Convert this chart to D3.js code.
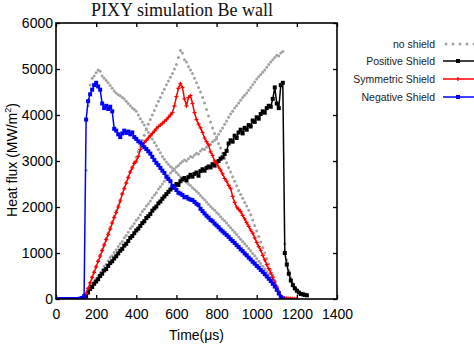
<!DOCTYPE html>
<html><head><meta charset="utf-8">
<script src="https://cdn.jsdelivr.net/npm/d3@7/dist/d3.min.js"></script>
<style>body{margin:0;background:#fff}</style>
</head><body><svg id="c" width="474" height="344"></svg>
<script>
const timeUs = [0,10,20,30,40,50,60,70,80,90,100,110,120,130,
140,150,160,170,180,190,200,210,220,230,240,250,260,270,280,290,300,310,320,330,
340,350,360,370,380,390,400,410,420,430,440,450,460,470,480,490,500,510,520,530,
540,550,560,570,580,590,600,610,620,630,640,650,660,670,680,690,700,710,720,730,
740,750,760,770,780,790,800,810,820,830,840,850,860,870,880,890,900,910,920,930,
940,950,960,970,980,990,1000,1010,1020,1030,1040,1050,1060,1070,1080,1090,1100,1110,1120,1130,
1140,1150,1160,1170,1180,1190,1200,1210,1220,1230,1240,1250];

const xTicks = [0,200,400,600,800,1000,1200,1400];
const yTicks = [0,1000,2000,3000,4000,5000,6000];

const noShieldPeak1 = [0,0,0,0,0,0,0,0,0,0,0,0,0,0,
100,2800,4200,4650,4800,4850,4920,4980,4950,4850,
4800,4750,4700,4640,4580,4520,4480,4440,4420,4380,
4350,4300,4250,4200,4150,4120,4080,4000,3920,3850,
3780,3700,3620,3550,3480,3400,3330,3250,3180,3100,
3040,2980,2930,2880,2850,2800,2750,2700,2650,2620,
2580,2540,2500,2470,2420,2380,2340,2300,2250,2200,
2160,2110,2060,2010,1970,1930,1880,1840,1790,1740,
1700,1650,1600,1550,1500,1450,1400,1350,1300,1250,
1200,1150,1100,1050,990,940,880,820,770,710,
650,590,530,470,400,330,250,170,80,20,
null,null,null,null,null,null,null,null,null,null,null,null];

const noShieldPeak2 = [null,null,null,null,null,null,null,null,null,null,null,null,null,null,
0,100,230,350,480,600,720,840,960,1080,
1200,1320,1440,1560,1680,1800,1920,2040,2160,2300,
2420,2540,2660,2780,2880,2980,3080,3200,3320,3450,
3560,3680,3800,3900,4000,4100,4200,4300,4380,4480,
4560,4660,4740,4820,4900,5000,5100,5250,5400,5350,
5200,5150,5050,4980,4900,4800,4700,4600,4500,4380,
4260,4120,3980,3850,3720,3600,3480,3380,3280,3170,
3060,2960,2860,2760,2660,2560,2460,2360,2270,2190,
2100,2020,1930,1830,1720,1600,1480,1360,1240,1120,
1000,880,760,640,520,400,280,160,60,20,
null,null,null,null,null,null,null,null,null,null,null,null];

const noShieldPeak3 = [null,null,null,null,null,null,null,null,null,null,null,null,null,null,
0,70,160,250,300,380,440,500,570,630,
710,750,830,900,940,1010,1070,1140,1200,1250,
1330,1380,1450,1530,1580,1640,1710,1760,1830,1900,
1950,2020,2070,2130,2200,2260,2310,2390,2440,2500,
2560,2620,2680,2740,2780,2820,2870,2900,2950,2990,
3020,3000,3050,3100,3080,3130,3170,3150,3220,3260,
3250,3300,3350,3360,3420,3450,3520,3580,3650,3720,
3800,3870,3950,4020,4080,4150,4200,4260,4320,4380,
4430,4480,4540,4600,4660,4720,4780,4830,4880,4930,
4980,5040,5100,5150,5200,5250,5300,5280,5350,5380,
1200,850,620,460,340,260,200,160,130,110,100,90];

const positiveShield = [0,0,0,0,0,0,0,0,0,0,0,0,0,0,
10,60,140,220,260,330,380,430,500,550,
620,650,720,780,820,880,930,990,1050,1090,
1160,1200,1260,1330,1370,1430,1490,1530,1590,1650,
1690,1760,1800,1850,1920,1970,2010,2080,2120,2180,
2230,2280,2330,2380,2420,2450,2500,2480,2560,2600,
2630,2580,2650,2700,2660,2720,2750,2680,2780,2820,
2790,2850,2880,2860,2930,2900,2970,3000,3050,3080,
3150,3220,3380,3450,3420,3550,3500,3620,3680,3600,
3720,3680,3780,3750,3880,3850,3950,3920,4020,4080,
4050,4150,4200,4180,4350,4600,4250,4150,4650,4700,
1000,750,550,400,300,230,180,140,110,100,90,80];

const symmetricShield = [0,0,0,0,0,0,0,0,0,0,0,0,0,5,
20,120,230,350,470,580,700,820,930,1050,
1170,1290,1400,1520,1650,1770,1880,2000,2130,2280,
2400,2520,2640,2760,2850,2950,3000,3100,3250,3350,
3400,3450,3500,3550,3600,3650,3700,3750,3780,3820,
3860,3900,3950,4000,4050,4200,4400,4580,4680,4600,
4350,4200,4380,4420,4250,4050,3900,3800,3720,3620,
3500,3420,3350,3200,3120,3000,2950,2870,2800,2720,
2620,2560,2470,2400,2230,2100,2000,1950,1900,1820,
1740,1660,1580,1500,1430,1330,1230,1140,1060,950,
850,750,660,570,470,370,260,160,70,30,
20,15,10,10,5,5,0,null,null,null,null,null];

const negativeShield = [0,0,0,0,0,0,0,0,0,0,0,0,10,20,
60,3900,4300,4450,4550,4650,4700,4620,4550,4250,
4150,4200,4130,4180,4080,3700,3660,3580,3520,3600,
3660,3610,3640,3580,3620,3520,3480,3430,3400,3360,
3300,3260,3210,3160,3090,3020,2960,2910,2850,2790,
2740,2660,2610,2560,2460,2420,2370,2310,2290,2260,
2210,2220,2180,2160,2150,2110,2070,2040,1960,1910,
1860,1810,1770,1720,1690,1640,1600,1560,1510,1470,
1430,1390,1350,1300,1260,1220,1170,1130,1080,1040,
990,950,900,860,810,770,720,680,630,590,
540,490,440,390,330,270,200,120,40,10,
null,null,null,null,null,null,null,null,null,null,null,null];

const legendLabels = ["no shield","Positive Shield","Symmetric Shield","Negative Shield"];

const svg = d3.select("#c");
const x = d3.scaleLinear().domain([0,1400]).range([56,337]);
const y = d3.scaleLinear().domain([0,6000]).range([299,23]);
const sans = "'Liberation Sans', Arial, Helvetica, sans-serif";
const fmt = d3.format("d");

function pts(vals){ return timeUs.map((t,i)=>({t, v: vals[i]})).filter(d=>d.v!=null); }

// title
svg.append("text").attr("x",182).attr("y",16).attr("text-anchor","middle")
  .attr("font-family","'Liberation Serif','Times New Roman',serif").attr("font-size",18)
  .attr("fill","#111").text("PIXY simulation Be wall");

// axes
const gx = svg.append("g").attr("transform",`translate(0,${y(0)})`)
  .call(d3.axisBottom(x).tickValues(xTicks).tickFormat(fmt).tickSizeInner(-4).tickSizeOuter(0).tickPadding(10));
const gy = svg.append("g").attr("transform",`translate(${x(0)},0)`)
  .call(d3.axisLeft(y).tickValues(yTicks).tickFormat(fmt).tickSizeInner(-4).tickSizeOuter(0).tickPadding(3));
const gt = svg.append("g").attr("transform",`translate(0,${y(6000)})`)
  .call(d3.axisTop(x).tickValues(xTicks).tickSizeInner(-4).tickSizeOuter(0).tickFormat(""));
const gr = svg.append("g").attr("transform",`translate(${x(1400)},0)`)
  .call(d3.axisRight(y).tickValues(yTicks).tickSizeInner(-4).tickSizeOuter(0).tickFormat(""));
[gx,gy,gt,gr].forEach(g=>{
  g.select(".domain").remove();
  g.selectAll("line").attr("stroke","#000").attr("stroke-width",1.3);
  g.selectAll("text").attr("font-family",sans).attr("font-size",14).attr("fill","#000");
});

// clip
svg.append("clipPath").attr("id","clip").append("rect")
  .attr("x",x(0)).attr("y",y(6000)).attr("width",x(1400)-x(0)).attr("height",y(0)-y(6000));
const plot = svg.append("g").attr("clip-path","url(#clip)");

const line = d3.line().x(d=>x(d.t)).y(d=>y(d.v));

// no shield: gray dots
[noShieldPeak1,noShieldPeak2,noShieldPeak3].forEach(vals=>{
  plot.append("g").selectAll("circle").data(pts(vals)).join("circle")
    .attr("cx",d=>x(d.t)).attr("cy",d=>y(d.v)).attr("r",1.5).attr("fill","#a3a3a3");
});

// positive shield (black)
plot.append("path").datum(pts(positiveShield)).attr("d",line)
  .attr("fill","none").attr("stroke","#000").attr("stroke-width",1.5);
plot.append("g").selectAll("rect").data(pts(positiveShield)).join("rect")
  .attr("x",d=>x(d.t)-2).attr("y",d=>y(d.v)-2).attr("width",4).attr("height",4).attr("fill","#000");

// symmetric shield (red)
plot.append("path").datum(pts(symmetricShield)).attr("d",line)
  .attr("fill","none").attr("stroke","#ff0000").attr("stroke-width",1.5);
plot.append("g").selectAll("path").data(pts(symmetricShield)).join("path")
  .attr("d",d=>`M${x(d.t)-2},${y(d.v)}h4M${x(d.t)},${y(d.v)-2}v4`)
  .attr("stroke","#ff0000").attr("stroke-width",1.2);

// negative shield (blue)
plot.append("path").datum(pts(negativeShield)).attr("d",line)
  .attr("fill","none").attr("stroke","#0000ff").attr("stroke-width",1.5);
plot.append("g").selectAll("rect").data(pts(negativeShield)).join("rect")
  .attr("x",d=>x(d.t)-2).attr("y",d=>y(d.v)-2).attr("width",4).attr("height",4).attr("fill","#0000ff");

// frame
svg.append("rect").attr("x",x(0)).attr("y",y(6000)).attr("width",x(1400)-x(0)).attr("height",y(0)-y(6000))
  .attr("fill","none").attr("stroke","#000").attr("stroke-width",1.6);

// axis labels
svg.append("text").attr("x",(x(0)+x(1400))/2).attr("y",340).attr("text-anchor","middle")
  .attr("font-family",sans).attr("font-size",14).attr("fill","#000").text("Time(\u03bcs)");
const yl = svg.append("text").attr("transform","translate(17,160) rotate(-90)").attr("text-anchor","middle")
  .attr("font-family",sans).attr("font-size",14).attr("fill","#000");
yl.append("tspan").text("Heat flux (MW/m");
yl.append("tspan").attr("font-size",9).attr("dy",-6).text("2");
yl.append("tspan").attr("dy",6).text(")");

// legend
const legY = [44,61,79,97];
const legColors = ["#a3a3a3","#000","#ff0000","#0000ff"];
legendLabels.forEach((lab,i)=>{
  svg.append("text").attr("x",435).attr("y",legY[i]).attr("dy","0.35em").attr("text-anchor","end")
    .attr("font-family",sans).attr("font-size",10.5).attr("fill","#222").text(lab);
  if(i===0){
    [446,453,460,467,474].forEach(cx=>svg.append("circle").attr("cx",cx).attr("cy",legY[i]).attr("r",1.5).attr("fill",legColors[i]));
  } else {
    svg.append("line").attr("x1",443).attr("x2",476).attr("y1",legY[i]).attr("y2",legY[i])
      .attr("stroke",legColors[i]).attr("stroke-width",1.5);
    if(i===1) svg.append("rect").attr("x",456).attr("y",legY[i]-2).attr("width",4).attr("height",4).attr("fill","#000");
    if(i===2) svg.append("path").attr("d",`M458,${legY[i]-2}v4`).attr("stroke","#ff0000").attr("stroke-width",1.2);
    if(i===3) svg.append("rect").attr("x",456).attr("y",legY[i]-2).attr("width",4).attr("height",4).attr("fill","#0000ff");
  }
});
</script></body></html>
